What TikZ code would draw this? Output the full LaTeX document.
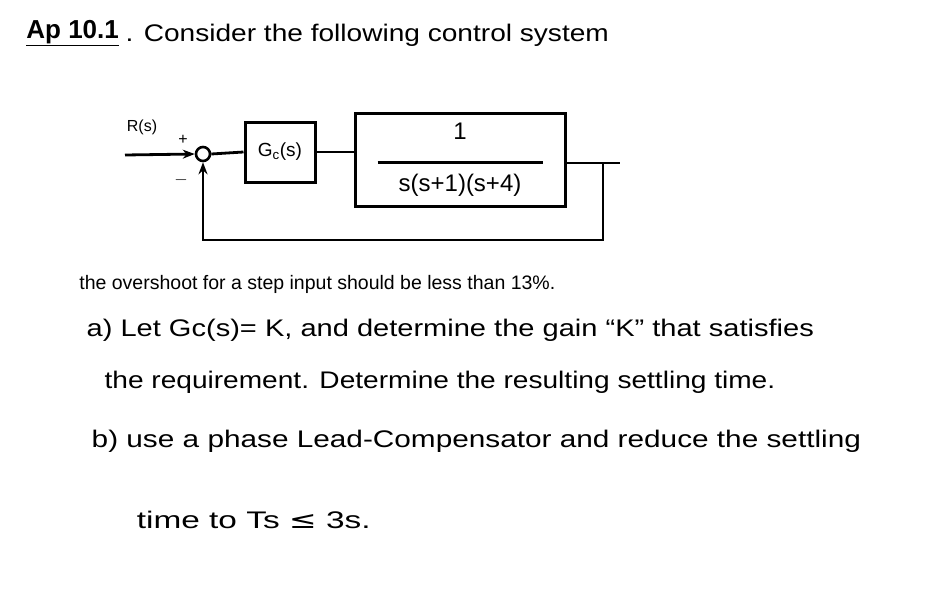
\documentclass[tikz,border=0pt]{standalone}
\usepackage{fontspec}
\setmainfont{Liberation Sans}
\usetikzlibrary{arrows.meta}
\begin{document}
\begin{tikzpicture}[x=1pt,y=-1pt,line width=2.8pt,
  blk/.style={draw,line width=3pt,inner sep=0pt},
  txt/.style={anchor=west,inner sep=0pt,font=\fontsize{24}{28}\selectfont},
  sml/.style={inner sep=0pt,font=\fontsize{16}{18}\selectfont}]
\useasboundingbox (0,0) rectangle (925,594);
\node[txt,font=\bfseries\fontsize{26}{30}\selectfont] (title) at (25,33) {\underline{Ap 10.1}};
\node[txt,xscale=1.17] (intro) at (124,35) {. Consider the following control system};
% block diagram
\node[sml] (rl) at (142,127) {R(s)};
\node[sml] (plus) at (183,140) {+};
\node[sml] (minus) at (181,180) {$-$};
\coordinate (in) at (125,155);
\node[draw,circle,minimum size=14pt,inner sep=0pt,line width=2.6pt] (sum) at (203,154) {};
\node[blk,minimum width=70pt,minimum height=60pt,font=\fontsize{19}{20}\selectfont] (gc) at (280,152) {G\textsubscript{c}(s)};
\node[blk,minimum width=210pt,minimum height=93pt,font=\fontsize{24}{28}\selectfont] (plant) at (460,160) {\begin{tabular}{@{}c@{}}1\\[-4pt]\rule{165pt}{2.4pt}\\[0pt]s(s+1)(s+4)\end{tabular}};
\coordinate (out) at (620,163);
\coordinate (tap) at (603,163);
\coordinate (fb1) at (603,240);
\coordinate (fb2) at (203,240);
\draw[-{Stealth[length=12pt]}] (in) -- (sum.west);
\draw (sum.east) -- (gc.west);
\draw (gc.east) -- (gc.east -| plant.west);
\draw (plant.east |- out) -- (out);
\draw[-{Stealth[length=12pt]}] (tap) -- (fb1) -- (fb2) -- (sum.south);
% text
\node[txt,font=\fontsize{19.5}{24}\selectfont] (l1) at (78,284) {the overshoot for a step input should be less than 13\%.};
\node[txt,xscale=1.21] (l2) at (85,330) {a) Let Gc(s)= K, and determine the gain ``K'' that satisfies};
\node[txt,xscale=1.17] (l3) at (103,382) {the requirement. Determine the resulting settling time.};
\node[txt,xscale=1.24] (l4) at (90,441) {b) use a phase Lead-Compensator and reduce the settling};
\node[txt,xscale=1.39] (l5) at (135,520) {time to Ts {\fontspec{DejaVu Sans}≤} 3s.};
\end{tikzpicture}
\end{document}
